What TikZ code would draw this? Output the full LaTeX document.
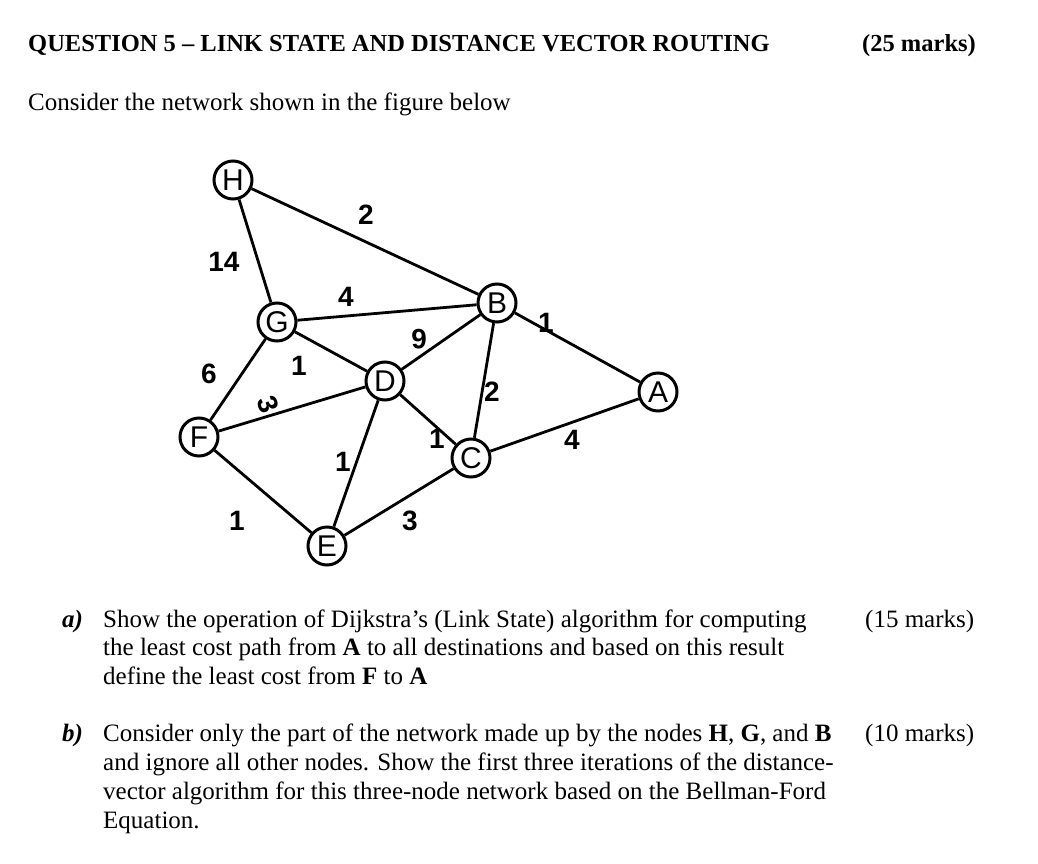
\documentclass[tikz,border=0pt]{standalone}
\usepackage{fontspec}
\setmainfont{Liberation Serif}
\newfontfamily\arial{Liberation Sans}
\begin{document}
\begin{tikzpicture}[x=1pt,y=-1pt,
  rn/.style={circle,draw,line width=3pt,fill=white,inner sep=0pt,minimum size=38pt,font=\arial\fontsize{30}{30}\selectfont},
  ed/.style={line width=2.8pt},
  lb/.style={font=\arial\bfseries\fontsize{28}{28}\selectfont,inner sep=0pt},
  tx/.style={anchor=base west,inner sep=0pt,font=\fontsize{25}{25}\selectfont}]
\useasboundingbox (0,0) rectangle (1038,864);
\node[rn] (H) at (233,180) {H};
\node[rn] (G) at (277,322) {G};
\node[rn] (B) at (497,303) {B};
\node[rn] (D) at (385,381) {D};
\node[rn] (A) at (658,392) {A};
\node[rn] (F) at (199,437) {F};
\node[rn] (C) at (471,458) {C};
\node[rn] (E) at (327,546) {E};
\draw[ed] (H)--(B); \draw[ed] (H)--(G); \draw[ed] (G)--(B); \draw[ed] (D)--(B);
\draw[ed] (B)--(A); \draw[ed] (G)--(D); \draw[ed] (G)--(F); \draw[ed] (F)--(D);
\draw[ed] (B)--(C); \draw[ed] (D)--(C); \draw[ed] (C)--(A); \draw[ed] (D)--(E);
\draw[ed] (F)--(E); \draw[ed] (E)--(C);
\node[lb] (l1) at (366,215) {2};
\node[lb] (l2) at (224,262) {14};
\node[lb] (l3) at (346,297) {4};
\node[lb,rotate=180] (l4) at (419,339) {6};
\node[lb] (l5) at (546,323) {1};
\node[lb] (l6) at (299,366) {1};
\node[lb] (l7) at (209,374) {6};
\node[lb,rotate=-70] (l8) at (268,405) {3};
\node[lb] (l9) at (492,392) {2};
\node[lb] (l10) at (437,439) {1};
\node[lb] (l11) at (572,440) {4};
\node[lb] (l12) at (343,462) {1};
\node[lb] (l13) at (237,521) {1};
\node[lb] (l14) at (410,521) {3};
\node[tx,font=\bfseries\fontsize{24.5}{25}\selectfont] (t1) at (28,52) {QUESTION 5 -- LINK STATE AND DISTANCE VECTOR ROUTING};
\node[tx,font=\bfseries\fontsize{24.5}{25}\selectfont] (t2) at (862,52) {(25 marks)};
\node[tx] (t3) at (28,111) {Consider the network shown in the figure below};
\node[tx] (a0) at (62,627) {\textbf{\textit{a)}}};
\node[tx] (a1) at (103,627) {Show the operation of Dijkstra's (Link State) algorithm for computing};
\node[tx] (a2) at (103,655) {the least cost path from \textbf{A} to all destinations and based on this result};
\node[tx] (a3) at (103,684) {define the least cost from \textbf{F} to \textbf{A}};
\node[tx] (a4) at (865,627) {(15 marks)};
\node[tx] (b0) at (62,741) {\textbf{\textit{b)}}};
\node[tx] (b1) at (103,741) {Consider only the part of the network made up by the nodes \textbf{H}, \textbf{G}, and \textbf{B}};
\node[tx] (b2) at (103,770) {and ignore all other nodes. Show the first three iterations of the distance-};
\node[tx] (b3) at (103,799) {vector algorithm for this three-node network based on the Bellman-Ford};
\node[tx] (b4) at (103,828) {Equation.};
\node[tx] (b5) at (865,741) {(10 marks)};
\end{tikzpicture}
\end{document}
